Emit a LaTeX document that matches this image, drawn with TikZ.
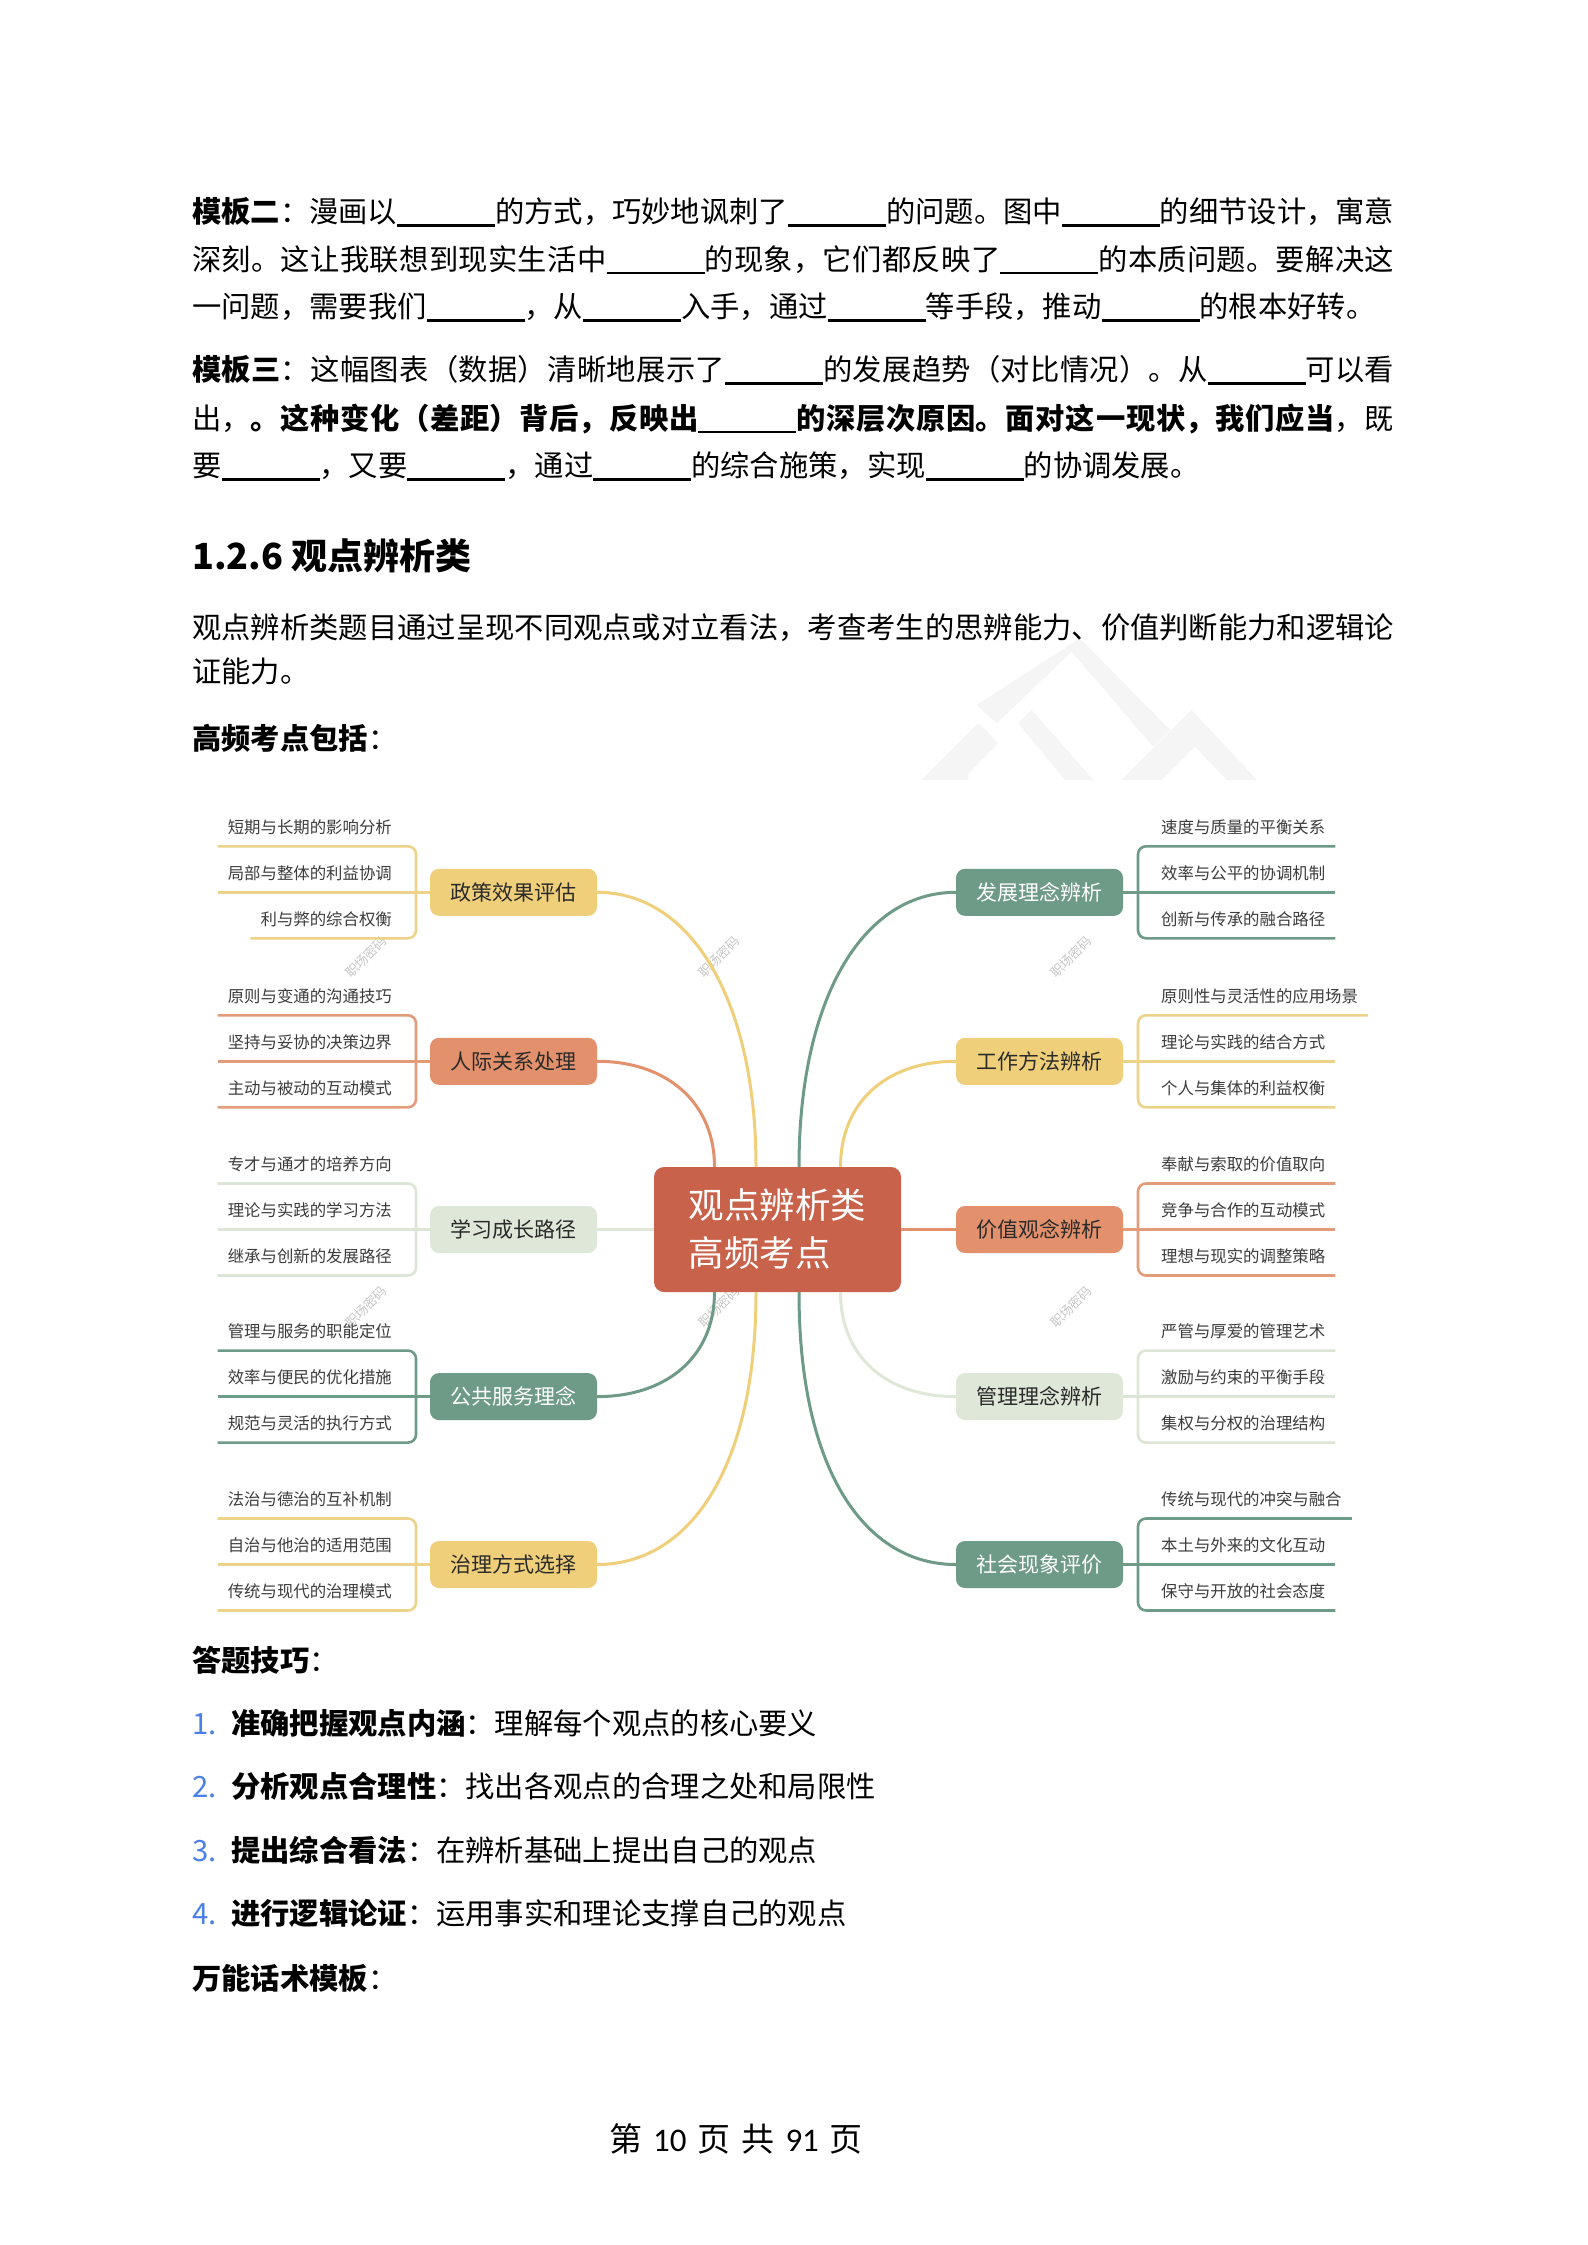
\documentclass[tikz,border=0pt]{standalone}
\usepackage{fontspec}
\setmainfont{Noto Sans CJK SC}
\newfontfamily\footfont{Carlito}
\usetikzlibrary{calc}
\definecolor{cYel}{HTML}{EFCF7A}
\definecolor{cYelL}{HTML}{EDD28A}
\definecolor{cOra}{HTML}{E3916C}
\definecolor{cOraL}{HTML}{E39C7A}
\definecolor{cLgt}{HTML}{DFE8D8}
\definecolor{cLgtL}{HTML}{DDE6D6}
\definecolor{cTeal}{HTML}{6E9A88}
\definecolor{cCen}{HTML}{C8624B}
\definecolor{cNum}{HTML}{4A80E8}
\definecolor{cLeaf}{HTML}{3C3C3C}
\definecolor{cDark}{HTML}{2A2A2A}
\definecolor{cLogo}{HTML}{F5F5F5}
\newcommand\bodysize{\fontsize{29.3}{35}\selectfont}
\newcommand\blank{\rule[-4pt]{98pt}{2.2pt}}
\newcommand\justline[1]{{\XeTeXlinebreaklocale "zh"\XeTeXlinebreakskip=0pt plus 4pt minus 1.5pt\tolerance=10000\parfillskip=0pt #1\par}}
\newcommand\LGroup[6]{%
  \node[leaf,anchor=east] (#1-1) at (402,#2-65) {#4};
  \node[leaf,anchor=east] (#1-2) at (402,#2-19) {#5};
  \node[leaf,anchor=east] (#1-3) at (402,#2+27) {#6};
  \coordinate (#1-ta) at (416,#2-46);
  \coordinate (#1-tb) at (416,#2+46);
  \draw[brk,draw=#3] (#1-1.west |- #1-ta) -- (#1-ta) -- (#1-tb) -- (#1-3.west |- #1-tb);
  \draw[brk,draw=#3] (#1-2.west |- #1) -- (#1.west);
}
\newcommand\RGroup[6]{%
  \node[leaf,anchor=west] (#1-1) at (1151,#2-65) {#4};
  \node[leaf,anchor=west] (#1-2) at (1151,#2-19) {#5};
  \node[leaf,anchor=west] (#1-3) at (1151,#2+27) {#6};
  \coordinate (#1-ta) at (1138,#2-46);
  \coordinate (#1-tb) at (1138,#2+46);
  \draw[brk,draw=#3] (#1-1.east |- #1-ta) -- (#1-ta) -- (#1-tb) -- (#1-3.east |- #1-tb);
  \draw[brk,draw=#3] (#1.east) -- (#1-2.east |- #1);
}
\tikzset{
  txt/.style={anchor=base west, inner sep=0pt, font=\bodysize, text=black},
  jtxt/.style={txt, text width=1202pt, align=justify},
  leaf/.style={font=\fontsize{16.4}{18}\selectfont, text=cLeaf, inner xsep=10pt, inner ysep=0pt},
  topic/.style={rounded corners=9pt, minimum width=167pt, minimum height=47pt, inner sep=0pt, font=\fontsize{21}{24}\selectfont, text=cDark},
  brk/.style={line width=2.6pt, rounded corners=8pt},
  conn/.style={line width=3pt},
  wm/.style={rotate=45, font=\fontsize{13}{13}\selectfont, text=black!22, inner sep=0pt},
  num/.style={anchor=base west, inner sep=0pt, font=\bodysize, text=cNum},
}
\begin{document}
\begin{tikzpicture}[x=1pt,y=-1pt]
\useasboundingbox[fill=white] (0,0) rectangle (1587,2245);
% faint background logo
\begin{scope}
\clip (880,600) rectangle (1320,780);
\fill[cLogo] (976.7,705) -- (1080,638.3) -- (1170,730) -- (1153.3,746.7) -- (1071.7,651.7) -- (996.7,723.3) -- cycle;
\fill[cLogo] (1121.7,780) -- (1191.7,710) -- (1256.7,780) -- (1226.7,780) -- (1195,746.7) -- (1161.7,780) -- cycle;
\fill[cLogo] (921.7,780) -- (978.3,723.3) -- (998.3,743.3) -- (968.3,773.3) -- (968.3,780) -- cycle;
\fill[cLogo] (1018.3,723.3) -- (1031.7,710) -- (1093.3,780) -- (1065,780) -- cycle;
\end{scope}
% templates
\node[jtxt] (l1) at (192,222.6) {\justline{{\bfseries 模板二}：漫画以\blank 的方式，巧妙地讽刺了\blank 的问题。图中\blank 的细节设计，寓意}};
\node[jtxt] (l2) at (192,270.1) {\justline{深刻。这让我联想到现实生活中\blank 的现象，它们都反映了\blank 的本质问题。要解决这}};
\node[txt] (l3) at (192,317.6) {一问题，需要我们\blank ，从\blank 入手，通过\blank 等手段，推动\blank 的根本好转。};
\node[jtxt] (l4) at (192,380.6) {\justline{{\bfseries 模板三}：这幅图表（数据）清晰地展示了\blank 的发展趋势（对比情况）。从\blank 可以看}};
\node[jtxt] (l5) at (192,429.1) {\justline{出，{\bfseries 。这种变化（差距）背后，反映出\blank 的深层次原因。面对这一现状，我们应当}，既}};
\node[txt] (l6) at (192,476.6) {要\blank ，又要\blank ，通过\blank 的综合施策，实现\blank 的协调发展。};
% heading and intro
\node[txt,font=\fontsize{36}{40}\selectfont\bfseries] (hd) at (192,569.5) {1.2.6 观点辨析类};
\node[jtxt] (p1) at (192,638.6) {\justline{观点辨析类题目通过呈现不同观点或对立看法，考查考生的思辨能力、价值判断能力和逻辑论}};
\node[txt] (p2) at (192,682.8) {证能力。};
\node[txt] (p3) at (192,749.1) {{\bfseries 高频考点包括}：};
% watermarks
\node[wm] (wm1) at (366,957) {职场密码};
\node[wm] (wm2) at (719,957) {职场密码};
\node[wm] (wm3) at (1071,957) {职场密码};
\node[wm] (wm4) at (366,1307) {职场密码};
\node[wm] (wm5) at (719,1307) {职场密码};
\node[wm] (wm6) at (1071,1307) {职场密码};
% mind map: centre
\node[rounded corners=10pt, fill=cCen, minimum width=247pt, minimum height=125pt, inner sep=0pt, text=white, font=\fontsize{35.5}{48}\selectfont, align=left] (ctr) at (777.5,1229.5) {观点辨析类\\高频考点};
\coordinate (tp1) at ([xshift=-63pt]ctr.north);
\coordinate (tp2) at ([xshift=-21.5pt]ctr.north);
\coordinate (tp3) at ([xshift=21.5pt]ctr.north);
\coordinate (tp4) at ([xshift=63pt]ctr.north);
\coordinate (bt1) at ([xshift=-63pt]ctr.south);
\coordinate (bt2) at ([xshift=-21.5pt]ctr.south);
\coordinate (bt3) at ([xshift=21.5pt]ctr.south);
\coordinate (bt4) at ([xshift=63pt]ctr.south);
% topics
\node[topic, fill=cYel] (zc) at (513.5,892.3) {政策效果评估};
\node[topic, fill=cOra] (rj) at (513.5,1061.3) {人际关系处理};
\node[topic, fill=cLgt] (xx) at (513.5,1229.5) {学习成长路径};
\node[topic, fill=cTeal, text=white] (gg) at (513.5,1396.6) {公共服务理念};
\node[topic, fill=cYel] (zl) at (513.5,1564.5) {治理方式选择};
\node[topic, fill=cTeal, text=white] (fz) at (1039.5,892.3) {发展理念辨析};
\node[topic, fill=cYel] (gz) at (1039.5,1061.3) {工作方法辨析};
\node[topic, fill=cOra] (jz) at (1039.5,1229.5) {价值观念辨析};
\node[topic, fill=cLgt] (gl) at (1039.5,1396.6) {管理理念辨析};
\node[topic, fill=cTeal, text=white] (sh) at (1039.5,1564.5) {社会现象评价};
% connectors
\draw[conn,draw=cYel] (zc.east) .. controls +(95,0) and +(0,-165) .. (tp2);
\draw[conn,draw=cOra] (rj.east) .. controls +(70,0) and +(0,-64) .. (tp1);
\draw[conn,draw=cLgt] (xx.east) -- (ctr.west);
\draw[conn,draw=cTeal] (gg.east) .. controls +(70,0) and +(0,64) .. (bt1);
\draw[conn,draw=cYel] (zl.east) .. controls +(90,0) and +(0,180) .. (bt2);
\draw[conn,draw=cTeal] (fz.west) .. controls +(-95,0) and +(0,-165) .. (tp3);
\draw[conn,draw=cYel] (gz.west) .. controls +(-70,0) and +(0,-64) .. (tp4);
\draw[conn,draw=cOra] (jz.west) -- (ctr.east);
\draw[conn,draw=cLgt] (gl.west) .. controls +(-70,0) and +(0,64) .. (bt4);
\draw[conn,draw=cTeal] (sh.west) .. controls +(-90,0) and +(0,180) .. (bt3);
% leaves
\LGroup{zc}{892.3}{cYelL}{短期与长期的影响分析}{局部与整体的利益协调}{利与弊的综合权衡}
\LGroup{rj}{1061.3}{cOraL}{原则与变通的沟通技巧}{坚持与妥协的决策边界}{主动与被动的互动模式}
\LGroup{xx}{1229.5}{cLgtL}{专才与通才的培养方向}{理论与实践的学习方法}{继承与创新的发展路径}
\LGroup{gg}{1396.6}{cTeal}{管理与服务的职能定位}{效率与便民的优化措施}{规范与灵活的执行方式}
\LGroup{zl}{1564.5}{cYelL}{法治与德治的互补机制}{自治与他治的适用范围}{传统与现代的治理模式}
\RGroup{fz}{892.3}{cTeal}{速度与质量的平衡关系}{效率与公平的协调机制}{创新与传承的融合路径}
\RGroup{gz}{1061.3}{cYelL}{原则性与灵活性的应用场景}{理论与实践的结合方式}{个人与集体的利益权衡}
\RGroup{jz}{1229.5}{cOraL}{奉献与索取的价值取向}{竞争与合作的互动模式}{理想与现实的调整策略}
\RGroup{gl}{1396.6}{cLgtL}{严管与厚爱的管理艺术}{激励与约束的平衡手段}{集权与分权的治理结构}
\RGroup{sh}{1564.5}{cTeal}{传统与现代的冲突与融合}{本土与外来的文化互动}{保守与开放的社会态度}
% tips
\node[txt] (t0) at (192,1671) {{\bfseries 答题技巧}：};
\node[num] (n1) at (192,1734) {1.};
\node[txt] (t1) at (231,1734) {{\bfseries 准确把握观点内涵}：理解每个观点的核心要义};
\node[num] (n2) at (192,1797.8) {2.};
\node[txt] (t2) at (231,1797.8) {{\bfseries 分析观点合理性}：找出各观点的合理之处和局限性};
\node[num] (n3) at (192,1861) {3.};
\node[txt] (t3) at (231,1861) {{\bfseries 提出综合看法}：在辨析基础上提出自己的观点};
\node[num] (n4) at (192,1924) {4.};
\node[txt] (t4) at (231,1924) {{\bfseries 进行逻辑论证}：运用事实和理论支撑自己的观点};
\node[txt] (t5) at (192,1989) {{\bfseries 万能话术模板}：};
% footer
\node[anchor=base, inner sep=0pt, font=\fontsize{33}{36}\selectfont] (ft) at (736,2151) {第\hspace{11pt}{\footfont 10}\hspace{11pt}页\hspace{11pt}共\hspace{11pt}{\footfont 91}\hspace{11pt}页};
\end{tikzpicture}
\end{document}
